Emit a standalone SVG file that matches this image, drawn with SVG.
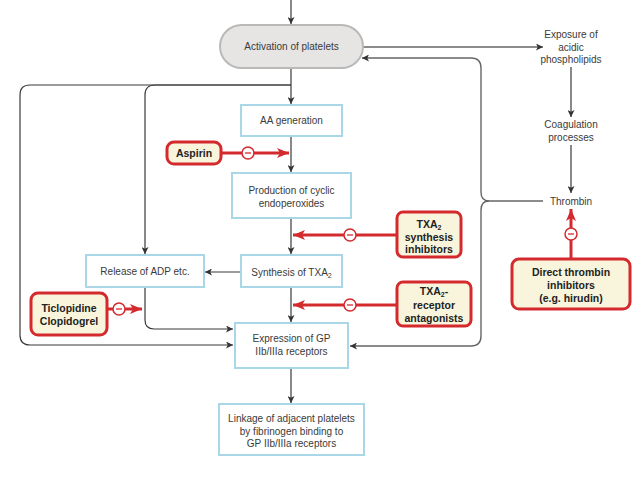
<svg xmlns="http://www.w3.org/2000/svg" width="638" height="478" viewBox="0 0 638 478">
<defs>
<marker id="ah" viewBox="0 0 10 10" refX="10" refY="5" markerWidth="7" markerHeight="7" markerUnits="userSpaceOnUse" orient="auto"><path d="M0,0 L10,5 L0,10 L2.5,5 Z" fill="#333"/></marker>
<marker id="rh" viewBox="0 0 12 10" refX="12" refY="5" markerWidth="13" markerHeight="10" markerUnits="userSpaceOnUse" orient="auto"><path d="M0,0 L12,5 L0,10 L3,5 Z" fill="#d42a2e"/></marker>
<style>
.c{fill:none;stroke:#3a3a3a;stroke-width:1.2}
.g{fill:none;stroke:#666;stroke-width:1.4}
.b{fill:#fff;stroke:#a9d7e8;stroke-width:2}
.d{fill:#f9f5dc;stroke:#d42a2e;stroke-width:3}
.r{fill:none;stroke:#d42a2e;stroke-width:3}
.ci{fill:#fff;stroke:#d42a2e;stroke-width:1.5}
.cm{stroke:#d42a2e;stroke-width:1.3}
.t{font-family:"Liberation Sans",Arial,sans-serif;font-size:10px;fill:#3a3a3a;text-anchor:middle}
.tb{font-family:"Liberation Sans",Arial,sans-serif;font-size:10.5px;font-weight:bold;fill:#222;text-anchor:middle}
</style>
</defs>
<rect width="638" height="478" fill="#fff"/>
<g id="connectors">
<path class="c" d="M291,0 V24" marker-end="url(#ah)"/>
<path class="c" d="M291,68 V104" marker-end="url(#ah)"/>
<path class="c" d="M291,85 H30 Q20,85 20,95 V335 Q20,345 30,345 H233" marker-end="url(#ah)"/>
<path class="c" d="M291,85 H155 Q145,85 145,95 V254" marker-end="url(#ah)"/>
<path class="c" d="M291,136 V172" marker-end="url(#ah)"/>
<path class="c" d="M291,218 V254" marker-end="url(#ah)"/>
<path class="c" d="M241,272 H205" marker-end="url(#ah)"/>
<path class="c" d="M291,287 V322" marker-end="url(#ah)"/>
<path class="c" d="M145,287 V320 Q145,329 154,329 H233" marker-end="url(#ah)"/>
<path class="c" d="M291,368 V403" marker-end="url(#ah)"/>
<path class="g" d="M363,47 H543" marker-end="url(#ah)"/>
<path class="g" d="M543,201 H489 Q481,201 481,192 V68 Q481,58 471,58 H362" marker-end="url(#ah)"/>
<path class="g" d="M489,201 Q481,201 481,210 V336 Q481,346 471,346 H350" marker-end="url(#ah)"/>
<path class="c" d="M571,67 V117" marker-end="url(#ah)"/>
<path class="c" d="M571,145 V193" marker-end="url(#ah)"/>
<path class="r" d="M221,153 H289" marker-end="url(#rh)"/>
<path class="r" d="M397,235 H293" marker-end="url(#rh)"/>
<path class="r" d="M397,305 H293" marker-end="url(#rh)"/>
<path class="r" d="M107,309 H142" marker-end="url(#rh)"/>
<path class="r" d="M571,259 V209" marker-end="url(#rh)"/>
<circle class="ci" cx="248" cy="153" r="6"/><path class="cm" d="M245,153 H251"/>
<circle class="ci" cx="350" cy="235" r="6"/><path class="cm" d="M347,235 H353"/>
<circle class="ci" cx="350" cy="305" r="6"/><path class="cm" d="M347,305 H353"/>
<circle class="ci" cx="119" cy="309" r="6"/><path class="cm" d="M116,309 H122"/>
<circle class="ci" cx="571" cy="234" r="6"/><path class="cm" d="M568,234 H574"/>
</g>
<g id="activation"><rect x="220" y="25" width="143" height="43" rx="21.5" fill="#e6e5e3" stroke="#b9b9b9" stroke-width="2"/><text class="t" x="291.5" y="50">Activation of platelets</text></g>
<g id="exposure"><text class="t" x="571" y="38">Exposure of</text><text class="t" x="571" y="51">acidic</text><text class="t" x="571" y="63">phospholipids</text></g>
<g id="coagulation"><text class="t" x="571" y="128">Coagulation</text><text class="t" x="571" y="141">processes</text></g>
<g id="thrombin"><text class="t" x="571" y="205">Thrombin</text></g>
<g id="aa"><rect class="b" x="241" y="105" width="101" height="31"/><text class="t" x="291.5" y="124">AA generation</text></g>
<g id="aspirin"><rect class="d" x="167" y="142" width="54" height="22" rx="7"/><text class="tb" x="194" y="157">Aspirin</text></g>
<g id="production"><rect class="b" x="232" y="173" width="119" height="45"/><text class="t" x="291.5" y="194">Production of cyclic</text><text class="t" x="291.5" y="207">endoperoxides</text></g>
<g id="txa2-synth-inh"><rect class="d" x="397" y="212" width="64" height="45" rx="6"/><text class="tb" x="429" y="227.5">TXA<tspan font-size="7" dy="2">2</tspan></text><text class="tb" x="429" y="241">synthesis</text><text class="tb" x="429" y="253">inhibitors</text></g>
<g id="synthesis"><rect class="b" x="241" y="255" width="101" height="32"/><text class="t" x="291.5" y="276">Synthesis of TXA<tspan font-size="7" dy="2">2</tspan></text></g>
<g id="release"><rect class="b" x="86" y="255" width="118" height="32"/><text class="t" x="145" y="275">Release of ADP etc.</text></g>
<g id="txa2-receptor"><rect class="d" x="397" y="282" width="74" height="44" rx="6"/><text class="tb" x="434" y="295">TXA<tspan font-size="7" dy="2">2</tspan><tspan dy="-2">-</tspan></text><text class="tb" x="434" y="309">receptor</text><text class="tb" x="434" y="322">antagonists</text></g>
<g id="expression"><rect class="b" x="235" y="323" width="113" height="45"/><text class="t" x="291.5" y="342">Expression of GP</text><text class="t" x="291.5" y="355">IIb/IIIa receptors</text></g>
<g id="ticlopidine"><rect class="d" x="31" y="293" width="76" height="42" rx="7"/><text class="tb" x="69" y="312">Ticlopidine</text><text class="tb" x="69" y="325">Clopidogrel</text></g>
<g id="direct-thrombin"><rect class="d" x="512" y="259" width="118" height="50" rx="7"/><text class="tb" x="571" y="276">Direct thrombin</text><text class="tb" x="571" y="289">inhibitors</text><text class="tb" x="571" y="302">(e.g. hirudin)</text></g>
<g id="linkage"><rect class="b" x="219" y="404" width="145" height="51"/><text class="t" x="291.5" y="422">Linkage of adjacent platelets</text><text class="t" x="291.5" y="435">by fibrinogen binding to</text><text class="t" x="291.5" y="447">GP IIb/IIIa receptors</text></g>
</svg>
